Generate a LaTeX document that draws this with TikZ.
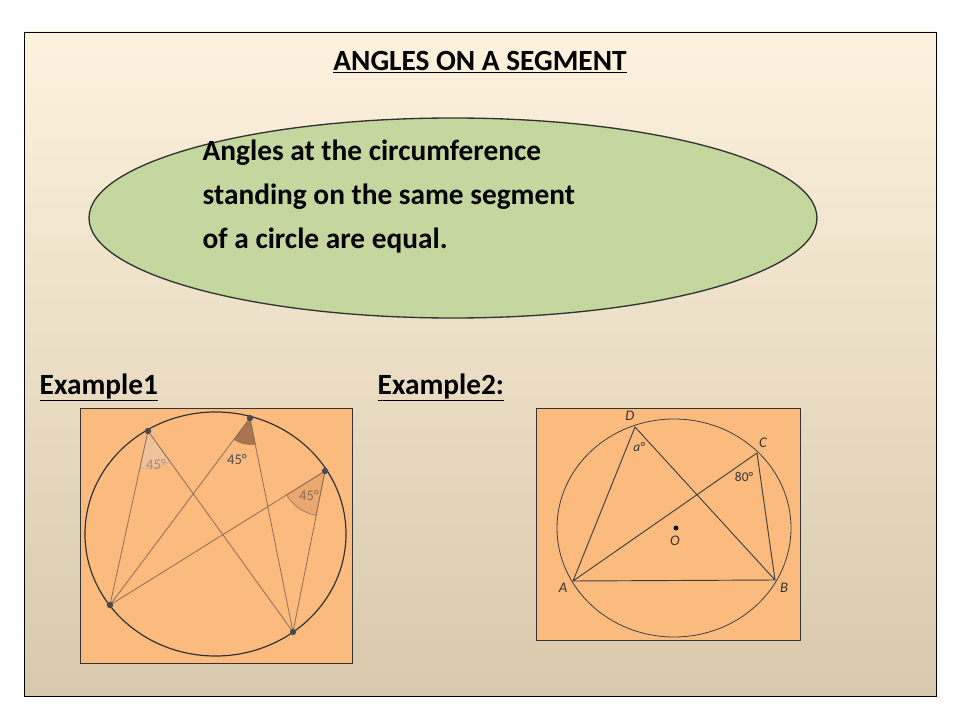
\documentclass[tikz,border=0pt]{standalone}
\usepackage{fontspec}
\setmainfont{Carlito}
\usetikzlibrary{calc,shapes.geometric}
\definecolor{bgtop}{HTML}{FDF2DE}
\definecolor{bgbot}{HTML}{D8C9AC}
\definecolor{ellfill}{HTML}{C4D79F}
\definecolor{boxfill}{HTML}{FBBB7E}
\definecolor{lineA}{HTML}{8E6E55}
\definecolor{sect}{HTML}{E8A870}
\definecolor{sectdark}{HTML}{A9754F}
\begin{document}
\begin{tikzpicture}[x=0.75pt,y=-0.75pt,
  head/.style={font=\bfseries\fontsize{22}{26}\selectfont,anchor=base west},
  geo/.style={draw=lineA,line width=0.6pt},
  dot/.style={circle,fill=black!70,inner sep=1.7pt},
  lab/.style={font=\itshape\fontsize{11}{13}\selectfont,text=black!80},
  deg/.style={font=\fontsize{11}{13}\selectfont,text=lineA}]
\useasboundingbox (0,0) rectangle (960,720);
\fill[white] (0,0) rectangle (960,720);
\shade[top color=bgtop,bottom color=bgbot] (24,32) rectangle (936,696);
\draw[black,line width=0.6pt] (24,32) rectangle (936,696);
\node[font=\bfseries\fontsize{22}{26}\selectfont] (title) at (480,62) {\underline{ANGLES ON A SEGMENT}};
\node[draw=black!80,line width=1pt,fill=ellfill,ellipse,minimum width=546pt,minimum height=150pt,inner sep=0pt] (ell) at (453,218) {};
\node[anchor=north west,align=left,font=\bfseries\fontsize{22}{33}\selectfont] (rule) at (198,135) {Angles at the circumference\\standing on the same segment\\of a circle are equal.};
\node[head] (ex1) at (35,394) {\underline{Example1}};
\node[head] (ex2) at (373,394) {\underline{Example2:}};
% Example 1
\filldraw[fill=boxfill,draw=black!80,line width=0.6pt] (80,408) rectangle (352,663);
\coordinate (P1) at (148,431);
\coordinate (P2) at (250,418);
\coordinate (P3) at (325,471);
\coordinate (A1) at (110,605);
\coordinate (B1) at (293,632);
\filldraw[fill=sect!70!white,draw=lineA!60] (P1) -- ($(P1)!28pt!(A1)$) to[bend right=22] ($(P1)!28pt!(B1)$) -- cycle;
\filldraw[fill=sectdark,draw=lineA] (P2) -- ($(P2)!20pt!(A1)$) to[bend right=20] ($(P2)!20pt!(B1)$) -- cycle;
\filldraw[fill=sect,draw=lineA] (P3) -- ($(P3)!34pt!(A1)$) to[bend right=22] ($(P3)!34pt!(B1)$) -- cycle;
\draw[black!80,line width=0.9pt] (215.5,534) ellipse[x radius=130.5,y radius=122];
\draw[geo] (P1) -- (A1) (P1) -- (B1) (P2) -- (A1) (P2) -- (B1) (P3) -- (A1) (P3) -- (B1);
\foreach \p in {P1,P2,P3,A1,B1} \node[dot] at (\p) {};
\node[deg,text=lineA!80] (d1) at (156,465) {45°};
\node[deg,text=black!70] (d2) at (237,460) {45°};
\node[deg] (d3) at (309,496) {45°};
% Example 2
\filldraw[fill=boxfill,draw=black!80,line width=0.6pt] (536,408) rectangle (800,640);
\draw[black!75,line width=0.6pt] (674,528) ellipse[x radius=117,y radius=109];
\coordinate (D) at (635,427);
\coordinate (C) at (757,453);
\coordinate (A) at (573,581);
\coordinate (B) at (775,580);
\draw[black!75,line width=0.7pt] (A) -- (D) -- (B) -- (A) -- (C) -- (B);
\node[circle,fill=black,inner sep=1.3pt] (O) at (676,528) {};
\node[lab] (lO) at (675,541) {O};
\node[lab] (lD) at (630,416) {D};
\node[lab] (lC) at (763,443) {C};
\node[lab] (lA) at (563,588) {A};
\node[lab] (lB) at (784,588) {B};
\node[lab,font=\itshape\fontsize{10}{12}\selectfont] (la) at (639,447) {a°};
\node[font=\fontsize{10}{12}\selectfont,text=black!80] (l80) at (744,477) {80°};
\end{tikzpicture}
\end{document}
